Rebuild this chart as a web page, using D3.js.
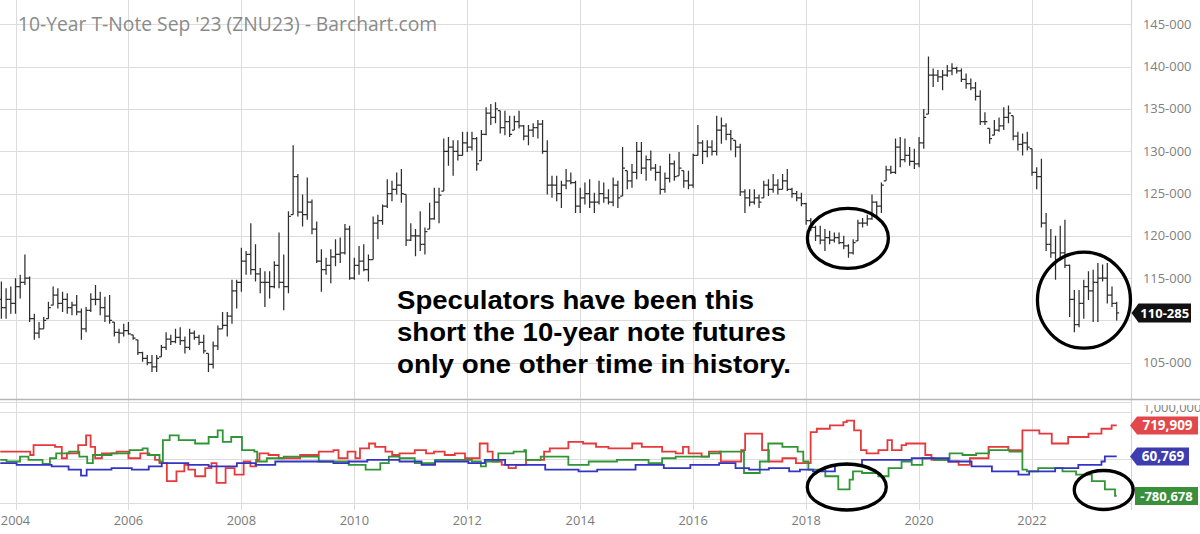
<!DOCTYPE html>
<html><head><meta charset="utf-8">
<script src="https://cdn.jsdelivr.net/npm/d3@7"></script>
<style>html,body{margin:0;padding:0;background:#fff;overflow:hidden}</style>
</head><body><svg id="c" width="1200" height="534" xmlns="http://www.w3.org/2000/svg"></svg>
<script>
// ---------- DATA ----------
const title = "10-Year T-Note Sep '23 (ZNU23) - Barchart.com";
const firstBar = 2003.75; // Oct 2003, monthly bars
const barHigh = [
114.6,113.8,114.0,115.0,115.4,117.8,115.2,110.8,109.8,110.4,
112.2,114.0,113.8,113.4,113.2,112.2,113.0,111.4,111.6,113.2,
114.2,113.4,112.8,113.0,109.8,109.0,109.6,109.8,108.3,107.7,
106.3,105.9,105.9,105.9,107.1,108.6,108.3,109.0,109.2,108.1,
109.0,108.8,108.3,108.3,106.1,107.5,109.4,111.0,111.0,114.8,
114.8,118.6,118.2,121.5,119.0,116.2,115.8,115.8,117.0,120.4,
117.8,122.9,130.7,127.3,124.9,126.9,124.3,121.7,118.4,117.4,
118.4,119.6,119.8,121.4,121.2,117.4,118.8,119.0,117.8,122.3,
122.5,123.7,126.7,126.5,127.5,127.9,124.9,121.5,120.8,122.9,
121.0,123.9,125.7,125.7,131.5,131.7,131.3,131.3,132.3,132.3,
132.3,131.7,132.5,135.2,135.6,135.8,134.8,134.8,134.2,134.2,
134.8,133.1,133.1,133.3,133.7,133.7,131.3,127.1,127.1,126.5,
127.9,127.5,126.5,125.7,126.3,126.7,125.1,126.5,126.3,125.5,
126.9,126.5,130.5,127.7,128.5,131.1,131.1,129.5,130.1,128.5,
128.3,127.5,129.7,128.9,129.9,127.7,127.7,129.7,133.1,131.3,
131.3,131.3,134.2,134.0,133.3,132.5,131.3,130.9,125.5,125.5,
125.5,124.9,126.5,126.7,127.3,126.7,127.3,127.9,125.7,125.3,
125.1,123.9,122.1,121.2,121.2,120.8,120.6,120.4,120.4,120.0,
119.0,119.6,121.9,122.1,122.5,124.9,124.1,126.3,128.3,128.3,
131.5,131.7,131.5,130.5,130.3,131.7,135.0,141.2,139.8,139.6,
139.6,140.2,140.4,140.0,139.8,139.2,138.6,138.2,137.2,134.6,
132.7,133.7,134.0,135.2,135.4,134.2,132.3,132.1,132.3,130.3,
128.1,129.1,122.7,120.8,120.0,121.2,121.9,116.6,113.6,113.6,
114.8,115.8,116.0,116.8,116.6,116.8,114.0,112.2];
const barLow = [
110.2,110.2,110.8,110.8,112.6,114.2,109.8,107.7,107.9,109.0,
110.2,111.8,111.4,111.0,110.8,110.6,110.6,107.7,108.6,111.0,
111.8,110.6,109.8,109.6,108.1,107.3,108.1,108.3,107.7,105.9,
105.1,104.7,103.9,103.9,105.7,106.5,107.1,107.3,107.1,106.1,
106.5,107.7,107.1,106.1,103.9,104.3,106.5,109.0,108.1,109.6,
111.4,113.4,115.4,115.4,114.6,113.2,111.6,112.6,113.8,113.8,
111.2,113.2,122.5,122.3,121.1,121.9,120.2,116.8,113.4,115.4,
114.4,116.4,116.8,117.8,114.8,114.8,115.4,115.8,114.6,117.2,
119.6,121.3,123.3,124.1,124.9,123.9,118.8,119.4,117.6,118.2,
117.8,120.8,121.9,121.5,125.3,128.3,127.1,128.9,129.5,129.9,
130.1,127.7,128.9,131.9,133.1,133.3,132.1,131.9,131.7,132.5,
132.7,131.3,130.7,131.7,131.5,129.7,124.9,124.5,124.1,123.3,
125.5,126.1,122.7,122.7,123.7,123.3,122.7,123.7,123.9,123.7,
123.5,123.3,124.7,125.5,125.7,126.7,127.3,126.5,127.7,126.5,
124.9,125.1,126.3,126.5,127.1,125.7,125.5,125.7,129.5,128.5,
129.3,129.5,129.5,130.9,131.3,130.1,129.3,124.7,122.7,123.5,
123.7,123.3,124.5,124.7,125.1,124.9,125.5,125.3,124.5,124.1,
123.5,121.3,120.6,119.4,119.0,118.2,119.0,119.2,119.0,118.4,
117.4,117.8,119.4,121.0,121.2,121.9,122.3,122.7,126.5,127.3,
127.3,128.1,128.7,128.3,127.9,128.1,130.3,134.4,137.6,138.2,
137.2,138.8,139.0,139.2,138.2,137.4,137.2,136.0,133.1,133.1,
130.9,131.9,132.3,132.5,133.3,131.3,130.1,129.5,130.1,127.1,
125.5,121.0,118.2,117.4,114.8,117.2,116.2,110.4,108.6,109.2,
110.2,112.4,109.8,109.8,114.6,112.0,111.6,110.0];
const barOpen = [
112.5,111.5,112.5,112.0,114.0,114.5,115.0,110.2,108.5,109.0,
110.0,111.5,113.0,112.0,112.5,111.5,111.8,111.0,109.0,111.2,
112.5,112.5,111.5,110.5,110.0,108.6,108.5,108.8,108.4,107.9,
106.2,105.5,105.0,104.5,105.5,106.8,107.8,107.5,108.0,107.6,
106.8,108.5,108.0,107.4,106.4,104.8,107.0,109.0,109.4,110.5,
113.5,114.5,117.0,117.8,116.0,115.5,114.5,114.5,114.0,116.5,
114.5,114.0,122.3,127.0,122.8,122.5,124.0,120.8,117.0,116.0,
116.5,117.5,117.8,118.0,120.8,115.0,116.5,117.0,116.0,117.2,
121.5,121.8,123.5,125.0,125.5,126.0,125.0,119.5,120.0,120.0,
119.0,120.5,122.0,124.0,124.8,130.0,130.5,130.0,129.5,131.0,
130.5,131.5,128.5,132.0,134.5,134.0,135.0,132.8,133.5,132.0,
133.5,133.0,131.8,132.5,132.8,133.2,130.0,126.0,126.0,125.0,
126.0,126.5,126.3,123.5,124.5,125.0,124.0,124.0,125.0,124.5,
124.0,126.0,124.5,128.0,126.5,127.5,130.0,128.0,129.0,128.0,
127.5,125.5,126.8,128.5,127.0,128.0,126.5,126.0,129.5,131.0,
130.0,130.5,130.0,132.5,133.0,132.0,131.5,130.5,125.2,124.5,
124.0,124.5,124.0,126.0,125.5,126.0,125.5,126.5,125.5,125.0,
124.5,123.8,121.8,121.0,120.0,119.5,119.8,119.5,119.8,119.2,
118.8,118.0,119.2,121.5,121.5,122.0,124.0,123.5,126.0,127.8,
127.5,130.5,129.0,129.5,128.8,128.5,131.0,134.0,139.0,139.0,
138.8,139.0,139.5,139.8,139.5,138.5,138.0,137.5,136.5,133.5,
133.5,131.5,132.5,133.0,134.0,134.5,131.8,130.8,131.0,130.5,
127.5,127.0,121.5,119.0,118.0,117.0,118.0,116.5,112.5,109.5,
112.0,114.0,113.5,114.5,115.0,115.0,113.0,112.0];
const barClose = [
111.5,112.5,112.0,114.0,114.5,115.0,110.2,108.5,109.0,110.0,
111.5,113.0,112.0,112.5,111.5,111.8,111.0,109.0,111.2,112.5,
112.5,111.5,110.5,110.0,108.6,108.5,108.8,108.4,107.9,106.2,
105.5,105.0,104.5,105.5,106.8,107.8,107.5,108.0,107.6,106.8,
108.5,108.0,107.4,106.4,104.8,107.0,109.0,109.4,110.5,113.5,
114.5,117.0,117.8,116.0,115.5,114.5,114.5,114.0,116.5,114.5,
114.0,122.3,127.0,122.8,122.5,124.0,120.8,117.0,116.0,116.5,
117.5,117.8,118.0,120.8,115.0,116.5,117.0,116.0,117.2,121.5,
121.8,123.5,125.0,125.5,126.0,125.0,119.5,120.0,120.0,119.0,
120.5,122.0,124.0,124.8,130.0,130.5,130.0,129.5,131.0,130.5,
131.5,128.5,132.0,134.5,134.0,135.0,132.8,133.5,132.0,133.5,
133.0,131.8,132.5,132.8,133.2,130.0,126.0,126.0,125.0,126.0,
126.5,126.3,123.5,124.5,125.0,124.0,124.0,125.0,124.5,124.0,
126.0,124.5,128.0,126.5,127.5,130.0,128.0,129.0,128.0,127.5,
125.5,126.8,128.5,127.0,128.0,126.5,126.0,129.5,131.0,130.0,
130.5,130.0,132.5,133.0,132.0,131.5,130.5,125.2,124.5,124.0,
124.5,124.0,126.0,125.5,126.0,125.5,126.5,125.5,125.0,124.5,
123.8,121.8,121.0,120.0,119.5,119.8,119.5,119.8,119.2,118.8,
118.0,119.2,121.5,121.5,122.0,124.0,123.5,126.0,127.8,127.5,
130.5,129.0,129.5,128.8,128.5,131.0,134.0,139.0,139.0,138.8,
139.0,139.5,139.8,139.5,138.5,138.0,137.5,136.5,133.5,133.5,
131.5,132.5,133.0,134.0,134.5,131.8,130.8,131.0,130.5,127.5,
127.0,121.5,119.0,118.0,117.0,118.0,116.5,112.5,109.5,112.0,
114.0,113.5,114.5,115.0,115.0,113.0,112.0,110.89];
const lastPriceLabel = "110-285";

const yearTicks = [2004,2006,2008,2010,2012,2014,2016,2018,2020,2022];
const priceTicks = [105,110,115,120,125,130,135,140,145];
const cotTicks = [1000, 0];           // thousands of contracts
const cotTickLabels = ["1,000,000", ""];

// COT net positions (thousands of contracts), step series [year, value]
const commercials = [[2003.73,162],[2004.26,92],[2004.32,301],[2004.70,266],[2004.82,22],[2004.91,127],[2005.11,301],[2005.25,510],[2005.33,266],[2005.41,22],[2005.53,127],[2005.79,162],[2006.00,22],[2006.21,127],[2006.37,92],[2006.47,-12],[2006.55,-82],[2006.68,-466],[2006.85,-256],[2006.99,-117],[2007.06,-221],[2007.18,-361],[2007.36,-187],[2007.47,-82],[2007.56,-500],[2007.72,-187],[2007.88,-326],[2008.04,-47],[2008.16,-152],[2008.26,-12],[2008.32,127],[2008.48,92],[2008.66,22],[2009.04,92],[2009.37,162],[2009.63,197],[2009.72,22],[2009.88,162],[2010.02,22],[2010.10,231],[2010.26,336],[2010.37,266],[2010.55,162],[2010.67,92],[2010.80,127],[2011.07,197],[2011.27,127],[2011.41,162],[2011.60,92],[2011.78,127],[2011.96,22],[2012.22,336],[2012.36,162],[2012.45,-47],[2012.61,-117],[2012.73,-187],[2012.86,-117],[2013.04,-12],[2013.36,162],[2013.46,231],[2013.79,371],[2014.05,336],[2014.28,266],[2014.50,231],[2014.92,336],[2015.09,266],[2015.45,162],[2015.69,127],[2015.82,266],[2015.92,127],[2016.15,57],[2016.28,162],[2016.49,-47],[2016.85,197],[2016.92,545],[2017.22,197],[2017.34,-47],[2017.58,22],[2017.82,-82],[2018.08,580],[2018.19,650],[2018.42,720],[2018.66,789],[2018.72,824],[2018.85,615],[2018.97,197],[2019.07,127],[2019.28,197],[2019.44,406],[2019.52,197],[2019.69,301],[2019.77,336],[2020.11,92],[2020.22,-12],[2020.52,-47],[2020.70,-117],[2020.90,22],[2021.23,266],[2021.58,197],[2021.83,615],[2022.13,545],[2022.35,336],[2022.64,475],[2023.00,545],[2023.23,650],[2023.41,720],[2023.50,720]];
const largeSpecs = [[2003.73,-12],[2003.84,-47],[2004.08,57],[2004.23,-12],[2004.48,-100],[2004.61,22],[2004.72,127],[2004.95,162],[2005.13,57],[2005.27,-82],[2005.37,92],[2005.70,127],[2006.02,197],[2006.25,231],[2006.34,92],[2006.55,-47],[2006.61,406],[2006.73,510],[2006.89,406],[2007.18,336],[2007.42,475],[2007.58,615],[2007.67,371],[2007.82,475],[2008.01,197],[2008.23,162],[2008.28,-47],[2008.45,22],[2008.75,57],[2009.37,-47],[2009.90,-117],[2010.20,-221],[2010.46,-82],[2010.61,57],[2010.80,22],[2011.07,-82],[2011.43,-12],[2012.08,-47],[2012.24,-152],[2012.33,-47],[2012.55,127],[2012.82,162],[2013.01,197],[2013.04,-12],[2013.30,57],[2013.79,-117],[2014.15,-47],[2014.65,-12],[2015.21,-82],[2015.45,22],[2015.69,57],[2016.28,127],[2016.47,162],[2016.90,-291],[2017.18,-47],[2017.33,336],[2017.58,266],[2017.85,162],[2017.95,-47],[2018.04,-221],[2018.34,-361],[2018.57,-640],[2018.77,-431],[2018.83,-256],[2018.99,-291],[2019.28,-361],[2019.46,-187],[2019.69,-47],[2019.87,-117],[2020.06,22],[2020.27,-12],[2020.54,127],[2020.77,92],[2021.01,127],[2021.24,197],[2021.60,162],[2021.83,-221],[2021.91,-256],[2022.11,-187],[2022.54,-256],[2022.78,-326],[2023.06,-466],[2023.29,-640],[2023.47,-780],[2023.50,-780]];
const smallSpecs = [[2003.73,-82],[2004.02,-117],[2004.64,-152],[2004.94,-221],[2005.16,-347],[2005.26,-221],[2005.70,-187],[2006.06,-221],[2006.36,-152],[2006.59,-82],[2007.06,-117],[2007.42,-152],[2007.92,-82],[2008.25,-117],[2008.60,-47],[2009.63,-82],[2009.90,-47],[2010.23,-12],[2010.80,-47],[2011.19,-117],[2011.43,-47],[2012.02,-82],[2012.31,-12],[2012.67,-117],[2013.38,-221],[2013.97,-256],[2014.30,-221],[2014.98,-117],[2015.48,-187],[2015.95,-117],[2016.46,-82],[2016.75,-187],[2016.99,-221],[2017.34,-187],[2017.70,-256],[2017.89,-221],[2018.12,-256],[2018.51,-117],[2018.99,-12],[2019.87,22],[2020.52,-47],[2020.93,-152],[2021.29,-256],[2021.76,-326],[2021.95,-256],[2022.41,-187],[2022.82,-117],[2023.23,-47],[2023.29,61],[2023.50,61]];
const cotLast = [
  {name:"commercials", value:719.909, label:"719,909", color:"#e2474b", line:"#e5393c", arrow:true},
  {name:"smallSpecs",  value:60.769,  label:"60,769",  color:"#3d3db0", line:"#3434c4", arrow:true},
  {name:"largeSpecs",  value:-780.678,label:"-780,678",color:"#3a8f3a", line:"#319435", arrow:false}
];
const annotationLines = ["Speculators have been this","short the 10-year note futures","only one other time in history."];
// circled areas: [year, value, panel]
const circles = [
  {t:2018.74, v:119.7, panel:"price", rx:40.5, ry:30},
  {t:2022.92, v:112.4, panel:"price", rx:46.5, ry:48},
  {t:2018.72, v:-589,  panel:"cot",   rx:39.5, ry:23},
  {t:2023.27, v:-653,  panel:"cot",   rx:29.5, ry:19.5}
];

// ---------- CHART ----------
const svg = d3.select("#c");
const FONT = "'Open Sans', 'Noto Sans', sans-serif";
const plotRight = 1131;
const x = d3.scaleLinear().domain([2004, 2022]).range([15.5, 1032]);
const yP = d3.scaleLinear().domain([105, 145]).range([362.7, 24.4]);
const yC = d3.scaleLinear().domain([-1000, 1000]).range([506.3, 412.3]);

svg.append("rect").attr("width",1200).attr("height",534).attr("fill","#fff");

const defs = svg.append("defs");
defs.append("clipPath").attr("id","pclip").append("rect").attr("x",0).attr("y",0).attr("width",plotRight).attr("height",398);
defs.append("clipPath").attr("id","cclip").append("rect").attr("x",0).attr("y",403).attr("width",plotRight).attr("height",102);
defs.append("clipPath").attr("id","lclip").append("rect").attr("x",1131).attr("y",405).attr("width",69).attr("height",110);

const grid = svg.append("g").attr("stroke","#dcdcdc").attr("stroke-width",1).attr("shape-rendering","crispEdges");
// vertical year grid
grid.selectAll("line.v").data(yearTicks).join("line")
  .attr("x1",d=>Math.round(x(d))+0.5).attr("x2",d=>Math.round(x(d))+0.5)
  .attr("y1",0).attr("y2",510);
// price horizontal grid
grid.selectAll("line.p").data(priceTicks).join("line")
  .attr("x1",0).attr("x2",plotRight).attr("y1",d=>Math.round(yP(d))+0.5).attr("y2",d=>Math.round(yP(d))+0.5);
// cot grid
grid.selectAll("line.c").data(cotTicks).join("line")
  .attr("x1",0).attr("x2",plotRight).attr("y1",d=>Math.round(yC(d))+0.5).attr("y2",d=>Math.round(yC(d))+0.5);
// cot panel bottom
svg.append("line").attr("x1",0).attr("x2",plotRight).attr("y1",503.5).attr("y2",503.5).attr("stroke","#dcdcdc");
// right axis line
svg.append("line").attr("x1",plotRight+0.5).attr("x2",plotRight+0.5).attr("y1",0).attr("y2",510).attr("stroke","#d2d2d2");
// panel separator
svg.append("line").attr("x1",0).attr("x2",1200).attr("y1",399.5).attr("y2",399.5).attr("stroke","#b5b5b5").attr("stroke-width",1.6);
svg.append("line").attr("x1",0).attr("x2",plotRight).attr("y1",402.5).attr("y2",402.5).attr("stroke","#dcdcdc").attr("stroke-width",1);

// title
svg.append("text").attr("x",18).attr("y",31).attr("font-family",FONT).attr("font-size",19.3)
  .attr("fill","#8a8a8a").text(title);

// OHLC bars
const n = Math.min(barHigh.length, barLow.length, barOpen.length, barClose.length);
const bars = d3.range(n).map(i => ({t: firstBar + i/12, h: barHigh[i], l: barLow[i], o: barOpen[i], c: barClose[i]}));
const clampV = (v,d) => Math.max(d.l, Math.min(d.h, v));
const gb = svg.append("g").attr("clip-path","url(#pclip)").attr("stroke","#2e2e2e").attr("stroke-width",1.25).attr("fill","none");
gb.selectAll("path").data(bars).join("path")
  .attr("d", d => {
    const px = x(d.t);
    return `M${px},${yP(d.h)}V${yP(d.l)}M${px-2.4},${yP(clampV(d.o,d))}H${px}M${px},${yP(clampV(d.c,d))}H${px+2.4}`;
  });

// COT lines
const line = d3.line().curve(d3.curveStepAfter).x(d=>x(d[0])).y(d=>yC(d[1]));
const gc = svg.append("g").attr("clip-path","url(#cclip)").attr("fill","none").attr("stroke-width",1.8).attr("stroke-linejoin","miter");
const seriesMap = {commercials, smallSpecs, largeSpecs};
[ "commercials", "largeSpecs", "smallSpecs" ].forEach(k => {
  const meta = cotLast.find(m=>m.name===k);
  gc.append("path").datum(seriesMap[k]).attr("d", line).attr("stroke", meta.line);
});

// price axis labels
const lastY = yP(barClose[n-1]);
svg.append("g").selectAll("text").data(priceTicks.filter(v => Math.abs(yP(v)-lastY) > 12)).join("text")
  .attr("x",1143).attr("y",d=>yP(d)).attr("dy","0.35em")
  .attr("font-family",FONT).attr("font-size",12.9).attr("fill","#808080")
  .text(d => d + "-000");
// cot axis label (clipped at panel top)
svg.append("g").attr("clip-path","url(#lclip)").selectAll("text").data(cotTicks.filter((d,i)=>cotTickLabels[i])).join("text")
  .attr("x",1143).attr("y",d=>yC(d)).attr("dy","-0.05em")
  .attr("font-family",FONT).attr("font-size",12.9).attr("fill","#808080")
  .text((d,i)=>cotTickLabels[i]);

// x-axis labels
svg.append("g").selectAll("text").data(yearTicks).join("text")
  .attr("x",d=>x(d)).attr("y",521).attr("dy","0.35em").attr("text-anchor","middle")
  .attr("font-family",FONT).attr("font-size",12.8).attr("fill","#7a7a7a")
  .text(d=>d);

// value tags
function tag(cy, tip, right, h, color, label, arrow, fs){
  const g = svg.append("g");
  const top = cy - h/2, bot = cy + h/2;
  const d = arrow
    ? `M${tip},${cy}L${tip+7},${top}H${right}V${bot}H${tip+7}Z`
    : `M${tip},${top}H${right}V${bot}H${tip}Z`;
  g.append("path").attr("d",d).attr("fill",color);
  g.append("text").attr("x",(tip+(arrow?7:0)+right)/2).attr("y",cy).attr("dy","0.36em")
    .attr("text-anchor","middle").attr("font-family",FONT).attr("font-weight",700)
    .attr("font-size",fs).attr("fill","#fff").text(label);
}
tag(lastY, 1131.5, 1191, 19, "#111", lastPriceLabel, true, 13);
cotLast.forEach(m => {
  if (m.arrow) tag(yC(m.value), 1130, m.name==="commercials"?1198:1189, 18, m.color, m.label, true, 13.5);
  else tag(yC(m.value), 1135, 1198, 18, m.color, m.label, false, 13);
});

// annotation text
const ann = svg.append("g").attr("font-family","'Liberation Sans', Arial, sans-serif").attr("font-weight",700)
  .attr("font-size",25).attr("fill","#000");
const annLens = [357, 389, 394];
annotationLines.forEach((s,i) => {
  ann.append("text").attr("x",397).attr("y",309 + i*32)
    .attr("textLength", annLens[i]).attr("lengthAdjust","spacingAndGlyphs").text(s);
});

// circles
svg.append("g").selectAll("ellipse").data(circles).join("ellipse")
  .attr("cx",d=>x(d.t)).attr("cy",d=>d.panel==="price"?yP(d.v):yC(d.v))
  .attr("rx",d=>d.rx).attr("ry",d=>d.ry)
  .attr("fill","none").attr("stroke","#000").attr("stroke-width",3.3);
</script>
</body></html>
